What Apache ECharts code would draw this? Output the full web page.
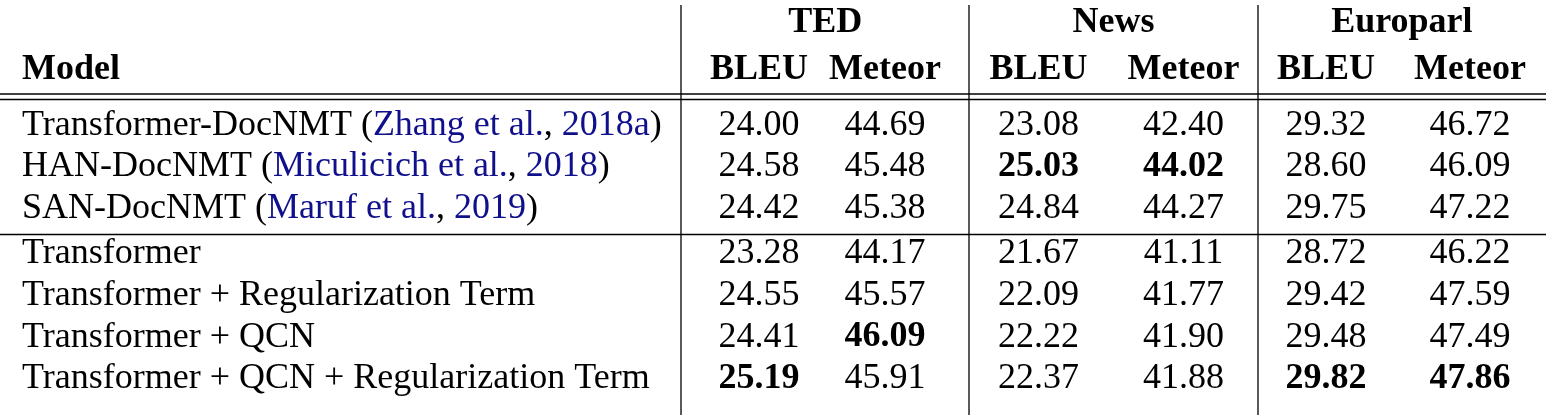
<!DOCTYPE html>
<html>
<head>
<meta charset="utf-8">
<script src="https://cdn.jsdelivr.net/npm/echarts@6/dist/echarts.min.js"></script>
<style>
html,body{margin:0;padding:0;background:#fff;}
#c{width:1551px;height:419px;}
</style>
</head>
<body>
<div id="c"></div>
<script>
// ---------- data ----------
const models = [
  'Transformer-DocNMT',
  'HAN-DocNMT',
  'SAN-DocNMT',
  'Transformer',
  'Transformer + Regularization Term',
  'Transformer + QCN',
  'Transformer + QCN + Regularization Term'
];
const citeAuthors = ['Zhang et al.', 'Miculicich et al.', 'Maruf et al.', '', '', '', ''];
const citeYears = ['2018a', '2018', '2019', '', '', '', ''];
const groups = ['TED', 'News', 'Europarl'];
const metrics = ['BLEU', 'Meteor'];
const tedBleu = [24.00, 24.58, 24.42, 23.28, 24.55, 24.41, 25.19];
const tedMeteor = [44.69, 45.48, 45.38, 44.17, 45.57, 46.09, 45.91];
const newsBleu = [23.08, 25.03, 24.84, 21.67, 22.09, 22.22, 22.37];
const newsMeteor = [42.40, 44.02, 44.27, 41.11, 41.77, 41.90, 41.88];
const europarlBleu = [29.32, 28.60, 29.75, 28.72, 29.42, 29.48, 29.82];
const europarlMeteor = [46.72, 46.09, 47.22, 46.22, 47.59, 47.49, 47.86];
// row indices printed in bold in each column
const boldTedBleu = [6];
const boldTedMeteor = [5];
const boldNewsBleu = [1];
const boldNewsMeteor = [1];
const boldEuroparlBleu = [6];
const boldEuroparlMeteor = [6];
// row blocks (separated by a rule)
const blocks = [[0, 1, 2], [3, 4, 5, 6]];

// ---------- layout ----------
const FONT = 'Liberation Serif';
const FS = 36;
const CITE = '#10108c';
const blockGeo = [{top: 104.5, height: 124.5}, {top: 233, height: 166.5}];
const groupGeo = [{left: 696, width: 252}, {left: 966, width: 290}, {left: 1254, width: 288}];
const groupCols = [
  [[tedBleu, boldTedBleu], [tedMeteor, boldTedMeteor]],
  [[newsBleu, boldNewsBleu], [newsMeteor, boldNewsMeteor]],
  [[europarlBleu, boldEuroparlBleu], [europarlMeteor, boldEuroparlMeteor]]
];
const HEAD_Y = 70;
const GROUP_Y = 23;

const grid = [], xAxis = [], yAxis = [], series = [];
function addGrid(g, xa, ya) {
  const idx = grid.length;
  grid.push(Object.assign({containLabel: false, show: false}, g));
  xAxis.push(Object.assign({gridIndex: idx}, xa));
  yAxis.push(Object.assign({gridIndex: idx}, ya));
  return idx;
}

blocks.forEach((rows, b) => {
  const rowNames = rows.map(r => models[r]);
  const geo = blockGeo[b];
  // model column
  const gi = addGrid({left: 22, width: 600, top: geo.top, height: geo.height},
    {type: 'value', min: 0, max: 1, show: false},
    {type: 'category', data: rowNames, inverse: true, show: false});
  series.push({
    type: 'scatter', xAxisIndex: gi, yAxisIndex: gi, symbolSize: 0, silent: true,
    itemStyle: {opacity: 1},
    data: rows.map(r => ({value: [0, models[r]]})),
    label: {
      show: true, position: 'right', distance: 0, opacity: 1,
      fontFamily: FONT, fontSize: FS, color: '#000',
      formatter: p => {
        const r = rows[p.dataIndex];
        if (!citeAuthors[r]) return models[r];
        return models[r] + ' (' + '{c|' + citeAuthors[r] + '}, {c|' + citeYears[r] + '})';
      },
      rich: {c: {color: CITE, fontFamily: FONT, fontSize: FS}}
    }
  });
  // numeric columns
  groups.forEach((gname, g) => {
    const gg = groupGeo[g];
    const gi2 = addGrid({left: gg.left, width: gg.width, top: geo.top, height: geo.height},
      b === 0 ? {
        type: 'category', data: metrics, position: 'top',
        axisLine: {show: false}, axisTick: {show: false},
        axisLabel: {show: true, margin: geo.top - HEAD_Y, verticalAlign: 'middle',
          fontFamily: FONT, fontSize: FS, fontWeight: 'bold', color: '#000', interval: 0}
      } : {type: 'category', data: metrics, show: false},
      {type: 'category', data: rowNames, inverse: true, show: false});
    const data = [];
    groupCols[g].forEach(([vals, bold], m) => {
      rows.forEach(r => {
        data.push({
          value: [metrics[m], models[r], vals[r]],
          label: {fontWeight: bold.indexOf(r) >= 0 ? 'bold' : 'normal'}
        });
      });
    });
    series.push({
      type: 'scatter', xAxisIndex: gi2, yAxisIndex: gi2, symbolSize: 0, silent: true,
      itemStyle: {opacity: 1},
      data: data,
      label: {show: true, position: 'inside', opacity: 1, fontFamily: FONT, fontSize: FS, color: '#000',
        formatter: p => p.value[2].toFixed(2)}
    });
  });
});

// group header row
const hg = addGrid({left: 681, width: 865, top: GROUP_Y - 1, height: 1},
  {type: 'category', data: groups, position: 'bottom',
    axisLine: {show: false}, axisTick: {show: false},
    axisLabel: {show: true, margin: 0, verticalAlign: 'middle', interval: 0,
      fontFamily: FONT, fontSize: FS, fontWeight: 'bold', color: '#000'}},
  {type: 'value', show: false});
series.push({type: 'scatter', xAxisIndex: hg, yAxisIndex: hg, data: [], symbolSize: 0});

// ---------- rules ----------
const LW = 1.3;
const line = (x1, y1, x2, y2) => ({type: 'line', shape: {x1, y1, x2, y2},
  style: {stroke: '#000', lineWidth: LW}, silent: true});
const graphic = [
  line(681, 5, 681, 415), line(969, 5, 969, 415), line(1258, 5, 1258, 415),
  line(0, 94, 1546, 94), line(0, 99.5, 1546, 99.5), line(0, 234.5, 1546, 234.5),
  {type: 'text', x: 22, y: HEAD_Y,
    style: {text: 'Model', fontFamily: FONT, fontSize: FS, fontWeight: 'bold', fill: '#000',
      verticalAlign: 'middle', align: 'left'}}
];

const chart = echarts.init(document.getElementById('c'), null, {renderer: 'canvas'});
chart.setOption({
  animation: false,
  backgroundColor: '#fff',
  grid, xAxis, yAxis, series, graphic
});
</script>
</body>
</html>
